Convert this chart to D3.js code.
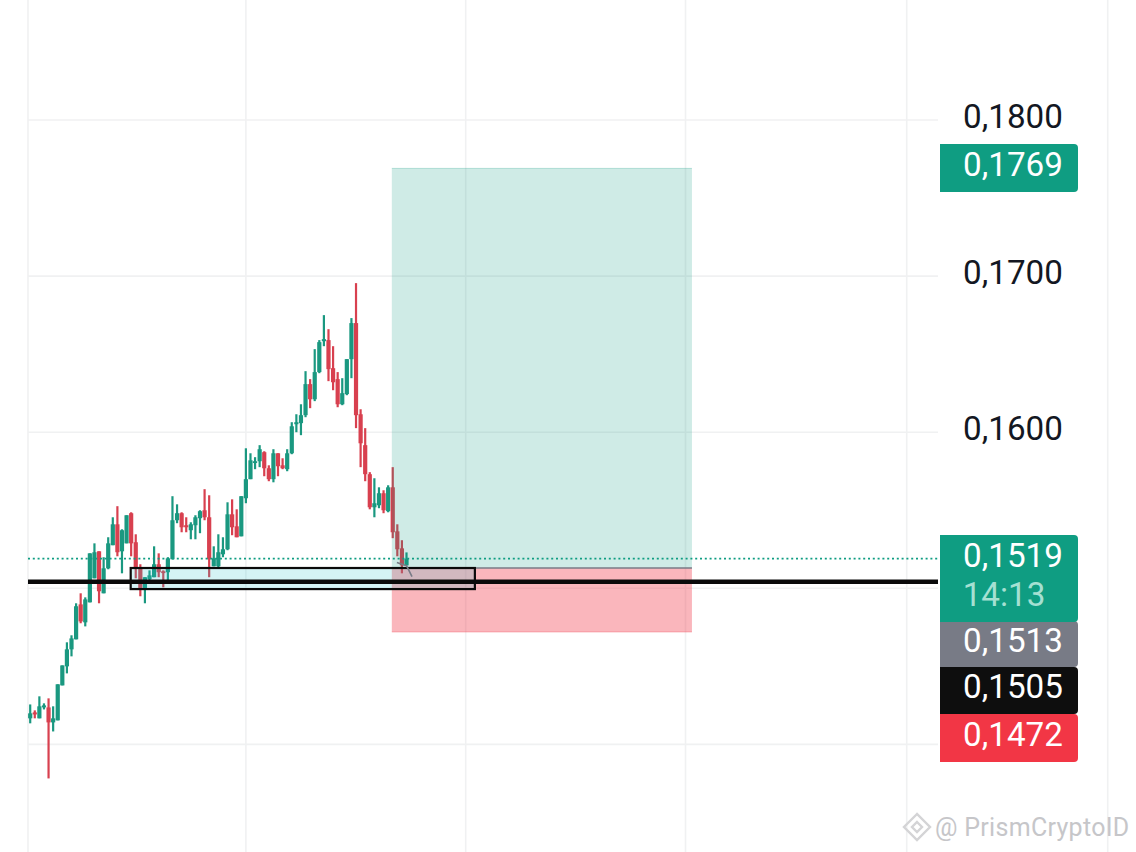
<!DOCTYPE html>
<html><head><meta charset="utf-8">
<script src="https://cdn.jsdelivr.net/npm/d3@7/dist/d3.min.js"></script>
<style>html,body{margin:0;padding:0;background:#fff;overflow:hidden}svg{display:block}text{font-family:Roboto,sans-serif}</style>
</head><body><svg id="c" width="1136" height="852"></svg>
<script>
const opens=[.14167,.14205,.14167,.14237,.14237,.14141,.14154,.14378,.14500,.14609,.14673,.14897,.14782,.14910,.15064,.15237,.14968,.15128,.15276,.15410,.15237,.15288,.15481,.15295,.15128,.14994,.15058,.15071,.15154,.15109,.15103,.15186,.15436,.15481,.15404,.15372,.15404,.15449,.15500,.15455,.15141,.15141,.15218,.15250,.15474,.15397,.15333,.15577,.15699,.15808,.15814,.15872,.15769,.15699,.15865,.15788,.15763,.15865,.16051,.16058,.16109,.16308,.16211,.16385,.16583,.16590,.16410,.16340,.16179,.16244,.16468,.16699,.16115,.15917,.15731,.15519,.15532,.15609,.15494,.15647,.15365,.15256,.15147];
const highs=[.14256,.14218,.14308,.14263,.14295,.14244,.14385,.14506,.14654,.14699,.14904,.14968,.14942,.15224,.15288,.15237,.15199,.15327,.15455,.15526,.15378,.15468,.15487,.15346,.15154,.15071,.15115,.15269,.15224,.15115,.15199,.15590,.15538,.15487,.15455,.15423,.15468,.15500,.15635,.15596,.15269,.15346,.15327,.15551,.15570,.15506,.15590,.15897,.15865,.15840,.15917,.15878,.15788,.15891,.15865,.15833,.15891,.16064,.16115,.16179,.16391,.16340,.16532,.16590,.16750,.16660,.16551,.16385,.16346,.16468,.16731,.16955,.16147,.16026,.15744,.15705,.15647,.15628,.15660,.15776,.15410,.15308,.15230];
const lows=[.14135,.14167,.14167,.14224,.13782,.14083,.14154,.14378,.14455,.14564,.14673,.14776,.14756,.14910,.15064,.14904,.14968,.15122,.15276,.15205,.15096,.15288,.15205,.15064,.14949,.14904,.15032,.15071,.15071,.15006,.15051,.15186,.15417,.15359,.15359,.15314,.15314,.15353,.15436,.15071,.15141,.15135,.15199,.15244,.15340,.15327,.15333,.15545,.15699,.15763,.15776,.15718,.15686,.15679,.15718,.15763,.15750,.15859,.16000,.15981,.16096,.16154,.16199,.16378,.16551,.16327,.16269,.16160,.16173,.16237,.16346,.16026,.15776,.15686,.15506,.15455,.15513,.15481,.15487,.15321,.15205,.15096,.15147];
const closes=[.14199,.14192,.14244,.14250,.14141,.14167,.14385,.14506,.14609,.14679,.14885,.14788,.14929,.15224,.15231,.14981,.15128,.15288,.15410,.15231,.15372,.15468,.15288,.15135,.14994,.15071,.15083,.15154,.15103,.15103,.15192,.15436,.15481,.15391,.15391,.15410,.15455,.15494,.15455,.15186,.15192,.15231,.15250,.15474,.15391,.15327,.15590,.15699,.15820,.15814,.15891,.15769,.15699,.15865,.15782,.15769,.15865,.16038,.16064,.16109,.16308,.16211,.16385,.16577,.16596,.16404,.16320,.16179,.16250,.16468,.16699,.16109,.15929,.15731,.15519,.15545,.15609,.15500,.15647,.15359,.15250,.15147,.15190];

const priceTicks=[.18,.17,.16,.15,.14];
const priceLabels=[.18,.17,.16];
const timeTicks=[-0.48,47,94.9,142.8,191,234.8];
const badgeRows=[
 {v:.1769,c:"#0f9d82",h:48},
 {v:.1513,c:"#787b86",h:46},
 {v:.1505,c:"#0e0e0e",h:47},
 {v:.1472,c:"#f23645",h:48}];
const lastPrice=.1519, countdown="14:13";
const entry=.1513, target=.1769, stop=.1472, level=.15042;
const zoneTop=.1513, zoneBottom=.14995;

const upCol="#1a9880", dnCol="#d8404f";
const svg=d3.select("#c");
const x=d3.scaleLinear().domain([0,82]).range([30.2,406.5]);
const y=d3.scaleLinear().domain([.18,.14]).range([120,744.4]);
const fmt=d3.formatLocale({decimal:",",thousands:".",grouping:[3],currency:["",""]}).format(".4f");
const xL=28, xR=938;

// grid
svg.append("g").selectAll("line").data(timeTicks).join("line")
 .attr("x1",d=>x(d)).attr("x2",d=>x(d)).attr("y1",0).attr("y2",852)
 .attr("stroke","#f0f1f2").attr("stroke-width",1.6);
svg.append("g").selectAll("line").data(priceTicks).join("line")
 .attr("x1",xL).attr("x2",xR).attr("y1",d=>y(d)).attr("y2",d=>y(d))
 .attr("stroke","#f0f1f2").attr("stroke-width",1.6);

// candles
const idx=d3.range(opens.length);
const g=svg.append("g");
g.selectAll("line").data(idx).join("line")
 .attr("x1",i=>x(i)).attr("x2",i=>x(i)).attr("y1",i=>y(highs[i])).attr("y2",i=>y(lows[i]))
 .attr("stroke",i=>closes[i]>=opens[i]?upCol:dnCol).attr("stroke-width",2.2);
g.selectAll("rect").data(idx).join("rect")
 .attr("x",i=>x(i)-2.1).attr("width",4.2)
 .attr("y",i=>y(Math.max(opens[i],closes[i])))
 .attr("height",i=>Math.max(1.8,Math.abs(y(opens[i])-y(closes[i]))))
 .attr("fill",i=>closes[i]>=opens[i]?upCol:dnCol);

// position tool
const pL=78.8,pR=144.2;
svg.append("rect").attr("x",x(pL)).attr("width",x(pR)-x(pL)).attr("y",y(target)).attr("height",y(entry)-y(target))
 .attr("fill","#0f9d82").attr("fill-opacity",.2);
svg.append("line").attr("x1",x(pL)).attr("x2",x(pR)).attr("y1",y(target)).attr("y2",y(target)).attr("stroke","#0f9d82").attr("stroke-opacity",.25);
svg.append("rect").attr("x",x(pL)).attr("width",x(pR)-x(pL)).attr("y",y(entry)).attr("height",y(stop)-y(entry))
 .attr("fill","#f23645").attr("fill-opacity",.36);
svg.append("line").attr("x1",x(pL)).attr("x2",x(pR)).attr("y1",y(stop)).attr("y2",y(stop)).attr("stroke","#f23645").attr("stroke-opacity",.3);
svg.append("line").attr("x1",x(pL)).attr("x2",x(pR)).attr("y1",y(entry)).attr("y2",y(entry)).attr("stroke","#787b86").attr("stroke-width",1.6);

// demand zone
svg.append("rect").attr("x",x(21.9)).attr("width",x(96.9)-x(21.9)).attr("y",y(zoneTop)).attr("height",y(zoneBottom)-y(zoneTop))
 .attr("fill","#2cc5cf").attr("fill-opacity",.2).attr("stroke","#0a0a0a").attr("stroke-width",2.2);

// last price dotted
svg.append("line").attr("x1",xL).attr("x2",xR).attr("y1",y(lastPrice)).attr("y2",y(lastPrice))
 .attr("stroke","#0f9d82").attr("stroke-width",1.8).attr("stroke-dasharray","2 2.8");
// level
svg.append("line").attr("x1",xL).attr("x2",xR).attr("y1",y(level)).attr("y2",y(level))
 .attr("stroke","#0a0a0a").attr("stroke-width",4.6);

// small grey arrow marks
svg.append("path").attr("fill","none").attr("stroke","#787b86").attr("stroke-width",1.6)
 .attr("d",d3.line()([[x(79.9),y(.15165)],[x(82),y(.15145)],[x(83.2),y(.15075)]]));

// axis text
const bx=940,bw=138,cx=1013,fs=33.2;
svg.append("g").selectAll("text").data(priceLabels).join("text")
 .attr("x",cx).attr("y",d=>y(d)-4).attr("dy","0.36em").attr("text-anchor","middle")
 .attr("font-size",fs).attr("fill","#131722").text(d=>fmt(d));

// badges: square on the left, rounded on the right
function badge(top,h,c){
 const r=4,l=bx,t=top,R=bx+bw,B=top+h;
 svg.append("path").attr("fill",c).attr("d",`M${l} ${t}H${R-r}Q${R} ${t} ${R} ${t+r}V${B-r}Q${R} ${B} ${R-r} ${B}H${l}Z`);
}
const tops=[144,621,667,714];
badgeRows.forEach((b,i)=>{
 badge(tops[i],b.h,b.c);
 svg.append("text").attr("x",cx).attr("y",tops[i]+b.h/2-4).attr("dy","0.36em").attr("text-anchor","middle")
  .attr("font-size",fs).attr("fill","#fff").text(fmt(b.v));
});
badge(535,87,"#0f9d82");
svg.append("text").attr("x",cx).attr("y",555).attr("dy","0.36em").attr("text-anchor","middle").attr("font-size",fs).attr("fill","#fff").text(fmt(lastPrice));
svg.append("text").attr("x",cx-9).attr("y",594).attr("dy","0.36em").attr("text-anchor","middle").attr("font-size",fs).attr("fill","#a5e0d2").text(countdown);

// watermark
const wm=svg.append("g");
wm.append("text").attr("x",935).attr("y",836).attr("font-size",25).attr("fill","#c6c6c9").attr("letter-spacing",.3).text("@ PrismCryptoID");
wm.append("path").attr("fill","none").attr("stroke","#d4d4d6").attr("stroke-width",2.4)
 .attr("d","M917 822l5 5-5 5-5-5zM917 814l-13 13 13 13 13-13z");
</script></body></html>
